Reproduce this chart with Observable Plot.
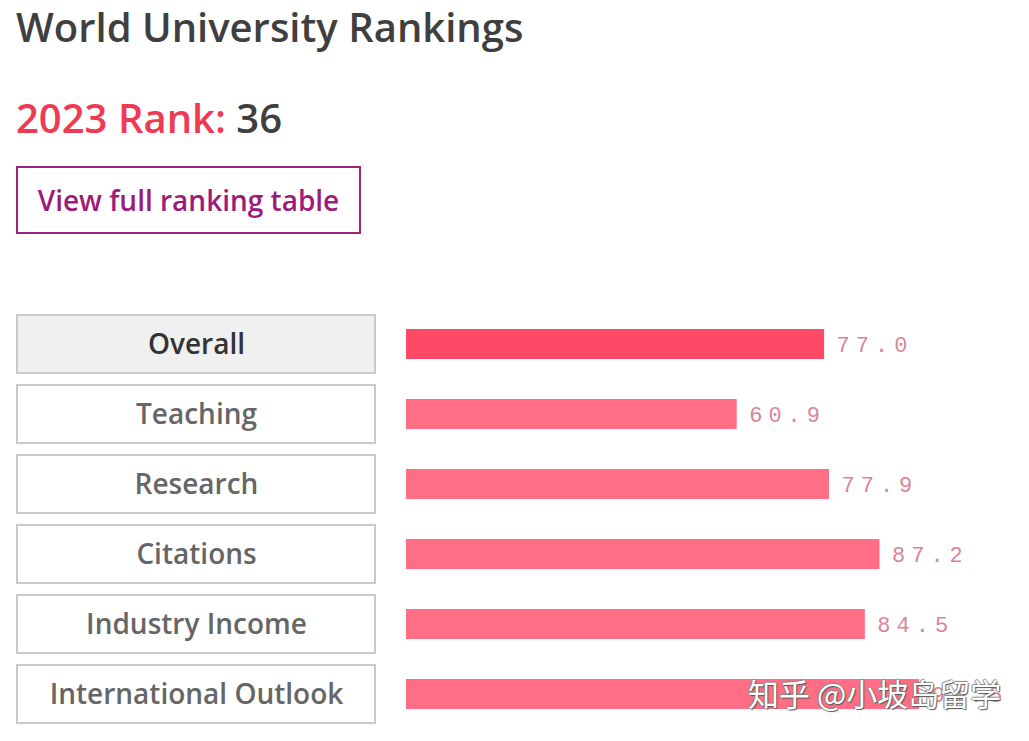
<!DOCTYPE html>
<html>
<head>
<meta charset="utf-8">
<script src="https://cdn.jsdelivr.net/npm/d3@7"></script>
<script src="https://cdn.jsdelivr.net/npm/@observablehq/plot@0.6"></script>
<style>
  html, body { margin: 0; padding: 0; background: #fff; }
  body { width: 1029px; height: 741px; position: relative; overflow: hidden; font-family: "Open Sans", sans-serif; font-weight: 600; }
  .abs { position: absolute; white-space: nowrap; }
  #title { left: 16px; top: 7px; font-size: 40px; line-height: 40px; color: #3f3f3f; }
  #rank { left: 16px; top: 98px; font-size: 40px; line-height: 40px; color: #3f3f3f; }
  #rank .lbl { color: #ee3a52; }
  #btn { left: 16px; top: 166px; width: 341px; height: 64px; border: 2px solid #a1237d; color: #9c1c78;
         font-size: 28px; display: flex; align-items: center; justify-content: center; box-sizing: content-box; }
  #chart { left: 0; top: 309px; }
  #chart svg g[font-family*="Mono"] { letter-spacing: 6px; font-weight: 400; }
  #wm { left: 748px; top: 674px; font-family: "Noto Sans CJK SC", sans-serif; font-weight: 400; font-size: 31px; line-height: 38px;
        color: #fff; text-shadow: 1px 1px 1px #555, -1px 0 1px #888, 0 -1px 1px #888; }
</style>
</head>
<body>
<div id="title" class="abs">World University Rankings</div>
<div id="rank" class="abs"><span class="lbl">2023 Rank:</span> 36</div>
<div id="btn" class="abs">View full ranking table</div>
<div id="chart" class="abs"></div>
<div id="wm" class="abs">知乎 @小坡岛留学</div>
<script>
const categories = ["Overall", "Teaching", "Research", "Citations", "Industry Income", "International Outlook"];
const scores = [77.0, 60.9, 77.9, 87.2, 84.5, 94.5];

const rows = categories.map((c, i) => ({category: c, score: scores[i], overall: i === 0}));

const chart = Plot.plot({
  width: 1029,
  height: 420,
  marginLeft: 406,
  marginRight: 80,
  marginTop: 0,
  marginBottom: 0,
  x: {domain: [0, 100], axis: null},
  y: {domain: categories, paddingInner: 0.5714, paddingOuter: 0.2857, axis: null},
  style: {background: "transparent", overflow: "visible"},
  marks: [
    Plot.cell(rows, {
      y: "category",
      fill: d => d.overall ? "#f0f0f0" : "#ffffff",
      stroke: "#c9c9c9",
      strokeWidth: 2,
      insetLeft: -389,
      insetRight: 574,
      insetTop: -14,
      insetBottom: -14
    }),
    Plot.text(rows, {
      y: "category",
      text: "category",
      frameAnchor: "left",
      dx: -210,
      dy: 1,
      textAnchor: "middle",
      fontSize: 28,
      fontWeight: 600,
      fontFamily: "'Open Sans', sans-serif",
      fill: d => d.overall ? "#333333" : "#666666"
    }),
    Plot.barX(rows, {
      x: "score",
      y: "category",
      fill: d => d.overall ? "#fe4a67" : "#ff6e84"
    }),
    Plot.text(rows, {
      x: "score",
      y: "category",
      text: d => d.score.toFixed(1),
      dx: 12,
      textAnchor: "start",
      fontSize: 22,
      fontFamily: "'Liberation Mono', 'Courier New', monospace",
      fill: "#d98597"
    })
  ]
});
document.getElementById("chart").appendChild(chart);
</script>
</body>
</html>
